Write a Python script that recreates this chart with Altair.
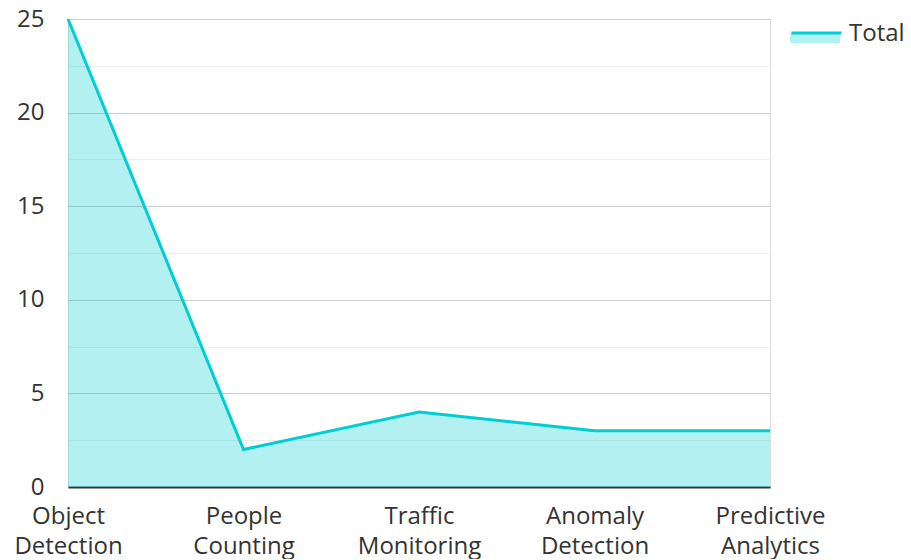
import altair as alt
import pandas as pd

categories = ["Object Detection", "People Counting", "Traffic Monitoring", "Anomaly Detection", "Predictive Analytics"]
totals = [25, 2, 4, 3, 3]
series_name = "Total"

df = pd.DataFrame({"category": categories, "value": totals, "series": [series_name] * len(categories)})
df["series_line"] = df["series"]

LINE = "#00CED1"
FONT = "Open Sans"
FS = 24

x_enc = alt.X(
    "category:N",
    sort=categories,
    scale=alt.Scale(type="point", padding=0),
    axis=alt.Axis(
        title=None,
        labelAngle=0,
        labelExpr="split(datum.label, ' ')",
        labelFontSize=FS,
        labelLineHeight=30,
        labelColor="#333333",
        labelFont=FONT,
        labelPadding=17,
        ticks=False,
        domainColor="#333333",
        domainWidth=2,
        grid=False,
    ),
)

y_enc = alt.Y(
    "value:Q",
    scale=alt.Scale(domain=[0, 25], nice=False),
    axis=alt.Axis(
        title=None,
        values=[0, 2.5, 5, 7.5, 10, 12.5, 15, 17.5, 20, 22.5, 25],
        labelExpr="datum.value % 5 === 0 ? datum.label : ''",
        labelFontSize=FS,
        labelColor="#333333",
        labelFont=FONT,
        labelPadding=24,
        ticks=False,
        domain=False,
        gridColor=alt.condition("datum.value % 5 === 0", alt.value("#cccccc"), alt.value("#eeeeee")),
        gridWidth=1,
    ),
)

area = alt.Chart(df).mark_area(fillOpacity=0.3, interpolate="linear").encode(
    x=x_enc,
    y=y_enc,
    fill=alt.Fill(
        "series:N",
        scale=alt.Scale(range=[LINE]),
        legend=alt.Legend(
            title=None,
            orient="none",
            legendX=722,
            legendY=-12,
            padding=0,
            symbolType="M-1,0.04H1V0.44H-1Z",
            symbolSize=2500,
            symbolOpacity=0.3,
            symbolStrokeWidth=0,
            labelFontSize=FS,
            labelFont=FONT,
            labelColor="transparent",
            labelOffset=6,
        ),
    ),
)

line = alt.Chart(df).mark_line(strokeWidth=3, interpolate="linear").encode(
    x=x_enc,
    y=y_enc,
    stroke=alt.Stroke(
        "series_line:N",
        scale=alt.Scale(range=[LINE]),
        legend=alt.Legend(
            title=None,
            orient="none",
            legendX=722,
            legendY=-12,
            padding=0,
            symbolType="M-1,-0.02H1",
            symbolSize=2500,
            symbolStrokeWidth=3,
            labelFontSize=FS,
            labelFont=FONT,
            labelColor="#333333",
            labelOffset=6,
        ),
    ),
)

chart = (
    alt.layer(area, line)
    .resolve_scale(fill="independent", stroke="independent")
    .properties(
        width=702,
        height=468,
        autosize=alt.AutoSizeParams(type="none"),
        padding={"left": 60, "top": 11, "right": 133, "bottom": 72},
    )
    .configure_view(strokeWidth=0, stroke="transparent", strokeOpacity=0)
    .configure(font=FONT)
)

chart.save("out.html", embed_options={"renderer": "svg", "actions": False})
